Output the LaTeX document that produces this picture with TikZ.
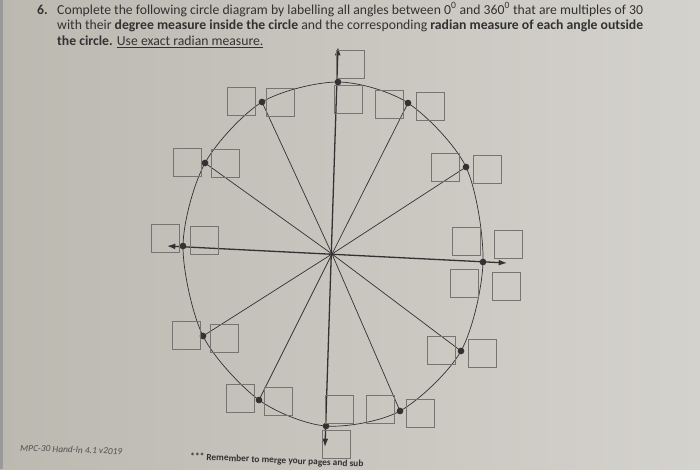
\documentclass[tikz,border=0pt]{standalone}
\usepackage{fontspec}
\setmainfont{Carlito}
\usetikzlibrary{arrows.meta}
\definecolor{paper}{RGB}{212,210,204}
\definecolor{paperdark}{RGB}{188,185,177}
\definecolor{ink}{RGB}{50,50,50}
\definecolor{boxgray}{RGB}{118,116,112}
\tikzset{
  anglebox/.style={draw=boxgray, line width=0.7pt, minimum size=0.84cm, inner sep=0pt},
  pointdot/.style={circle, fill=ink, inner sep=0pt, minimum size=0.2cm},
  radiusline/.style={ink, line width=0.6pt},
  axisline/.style={ink, line width=1.1pt, {Latex[length=0.25cm,width=0.18cm]}-{Latex[length=0.25cm,width=0.18cm]}},
  textline/.style={anchor=base west, inner sep=0pt, font=\fontsize{11.7}{14}\selectfont, text=ink}
}

\begin{document}
\begin{tikzpicture}[x=0.03cm, y=-0.03cm]
  \useasboundingbox (0,0) rectangle (700,469);
  \clip (0,0) rectangle (700,469);
  \shade[left color=paperdark, right color=paper] (0,0) rectangle (700,469);
  \fill[black!40] (0,0) rectangle (3,469);

  % the question
  \node[textline] (num) at (37,14) {\textbf{6.}};
  \node[textline] (line1) at (57,14) {Complete the following circle diagram by labelling all angles between 0\textsuperscript{0} and 360\textsuperscript{0} that are multiples of 30};
  \node[textline] (line2) at (57,29) {with their \textbf{degree measure inside the circle} and the corresponding \textbf{radian measure of each angle outside}};
  \node[textline] (line3) at (57,45) {\textbf{the circle.} \underline{Use exact radian measure.}};

  % points on the circle
  \coordinate (O) at (332,254);
  \foreach \a/\x/\y in {0/483/262, 30/466/167, 60/408/103, 90/338/82,
      120/262/102, 150/205/163, 180/183/246, 210/203/336,
      240/259/400, 270/326/426, 300/400/411, 330/461/351}
    \coordinate (p\a) at (\x,\y);
  \coordinate (xminus) at (167,246);
  \coordinate (xplus) at (507,263);
  \coordinate (yplus) at (338,47);
  \coordinate (yminus) at (325,447);

  \draw[ink, line width=0.6pt] plot[smooth cycle] coordinates {(p0) (p30) (p60) (p90) (p120) (p150) (p180) (p210) (p240) (p270) (p300) (p330)};
  \foreach \a in {30,60,120,150,210,240,300,330}
    \draw[radiusline] (O) -- (p\a);
  \draw[axisline] (xminus) -- (xplus);
  \draw[axisline] (yminus) -- (yplus);
  \foreach \a in {0,30,...,330}
    \node[pointdot] (d\a) at (p\a) {};

  % boxes for the labels
  \foreach \n/\x/\y in {out90/350/64, in90/348/99,
      out120/241/101, in120/280/102, in60/389/104, out60/430/106,
      out150/187/162, in150/225/163, in30/445/167, out30/487/169,
      out180/165/238, in180/204/240,
      in0/466/241, out0/508/244, in360/464/283, out360/506/286,
      out210/186/335, in210/224/338, in330/441/350, out330/482/353,
      out240/240/398, in240/278/401, in300/380/409, out300/420/413,
      in270/339/409, out270/336/444}
    \node[anglebox] (\n) at (\x,\y) {};

  % footer
  \node[anchor=base west, inner sep=0pt, font=\fontsize{8}{9}\selectfont\itshape, text=ink!85, rotate=-2] (code) at (20,451) {MPC-30 Hand-In 4.1 v2019};
  \node[anchor=base west, inner sep=0pt, font=\fontsize{8}{10}\selectfont\bfseries, text=ink, rotate=-2.5] (note) at (190,459.5) {*** Remember to merge your pages and sub};
\end{tikzpicture}
\end{document}
